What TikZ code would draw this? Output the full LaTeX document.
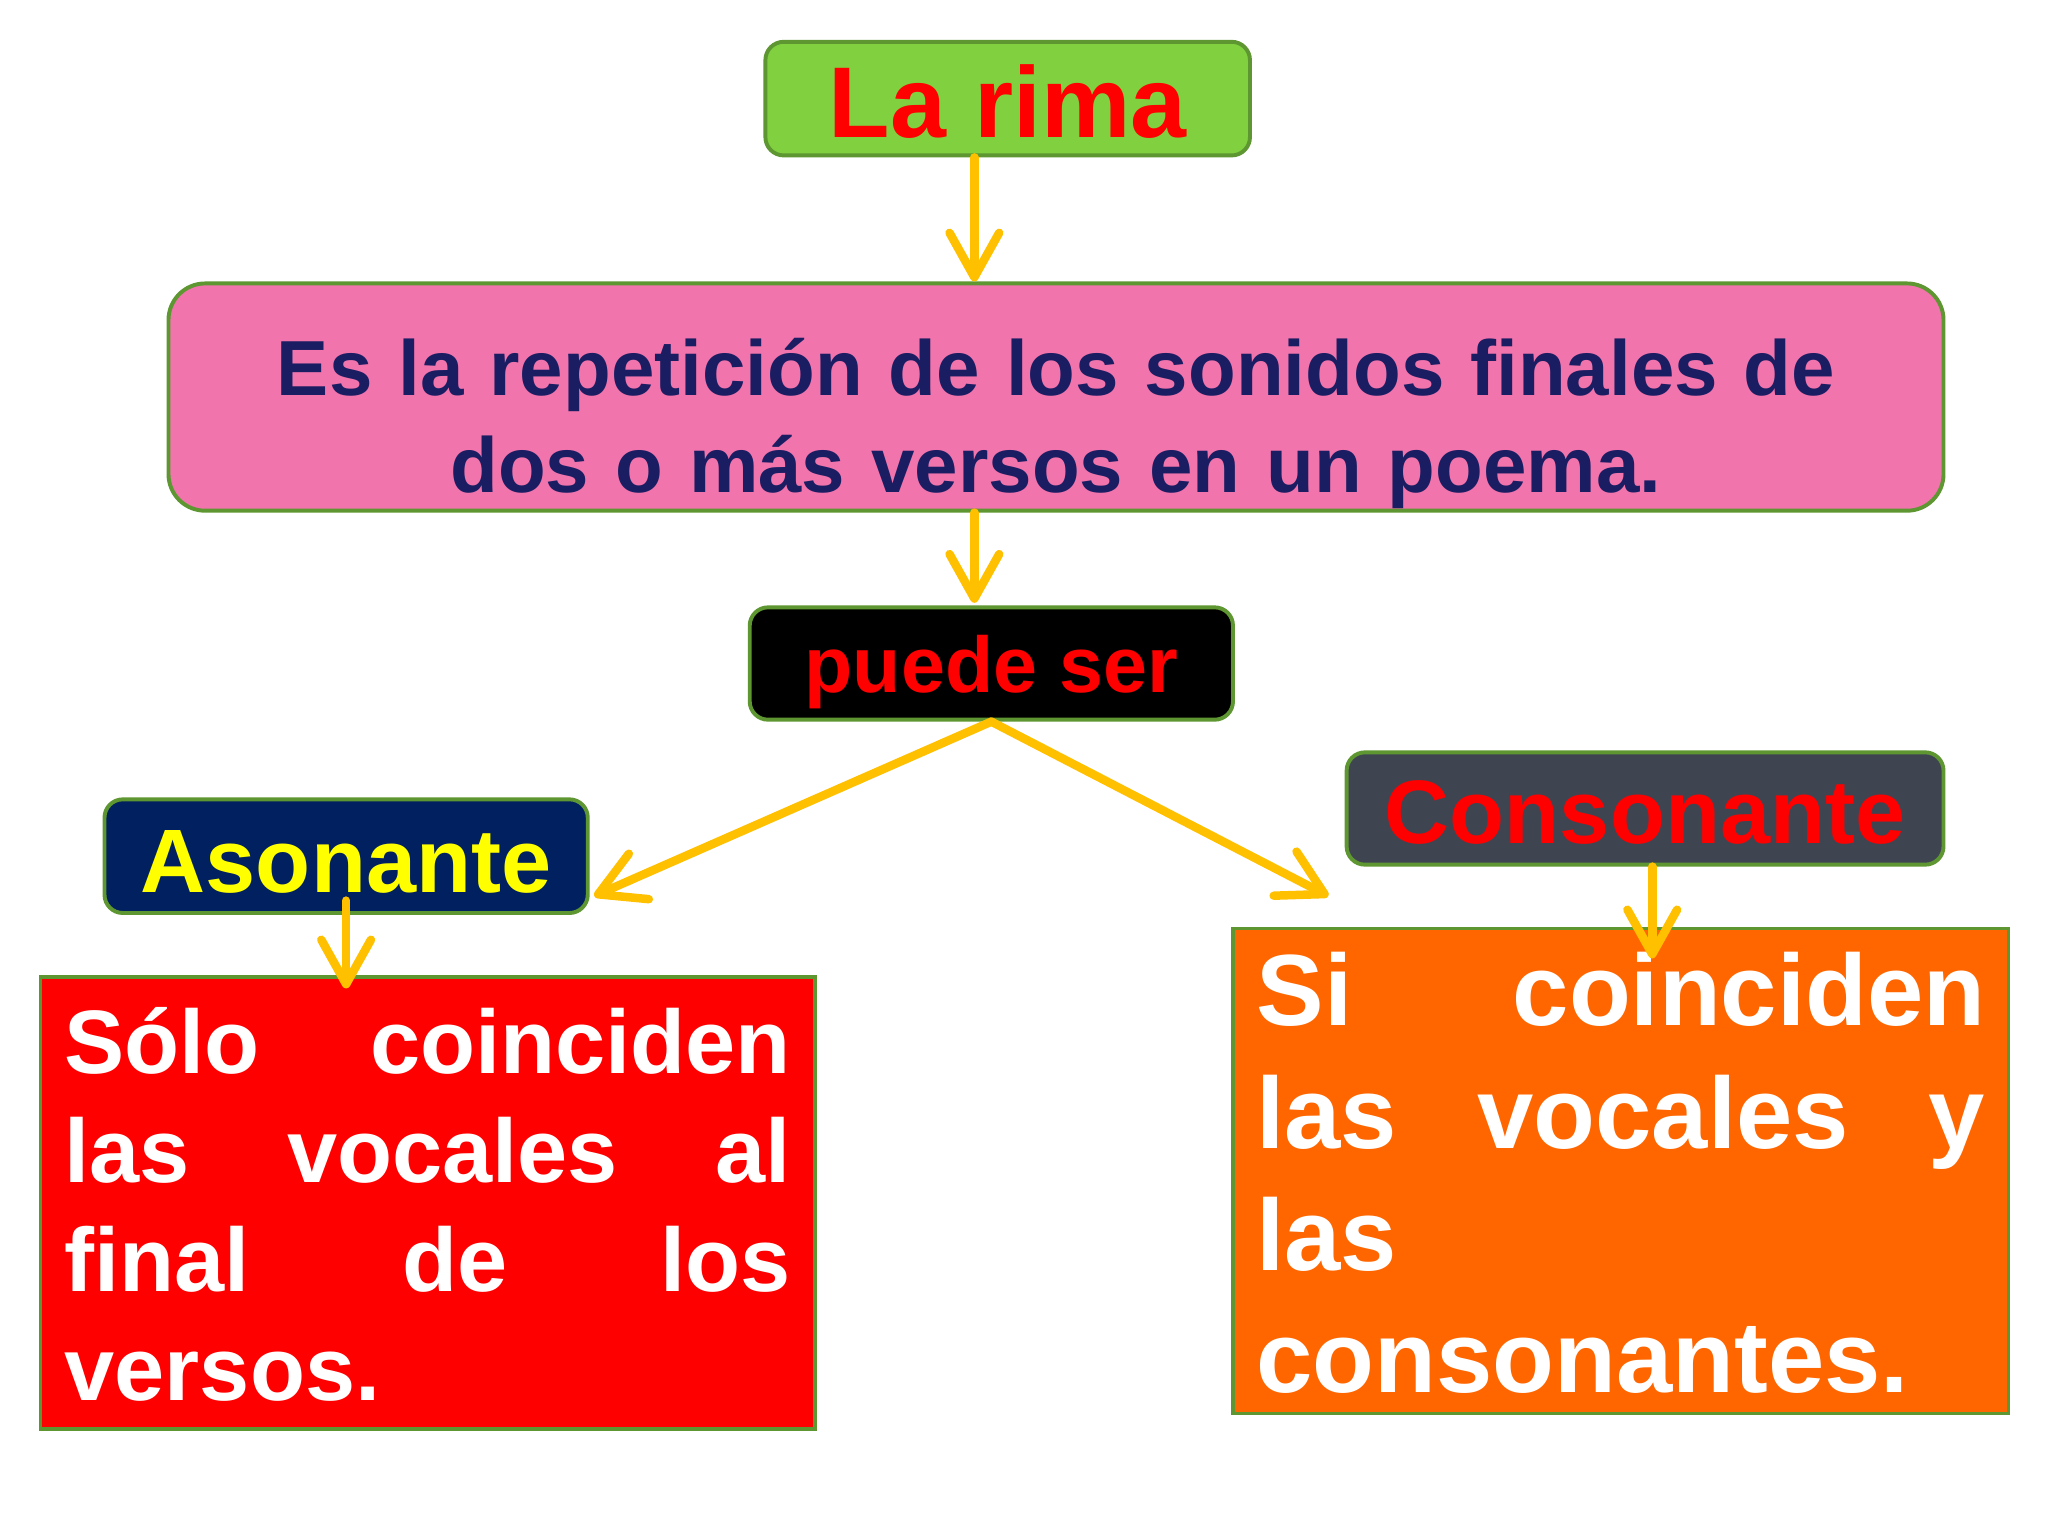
\documentclass[tikz,border=0pt]{standalone}
\usepackage{fontspec}
\setmainfont{Liberation Sans}
\usetikzlibrary{arrows.meta,calc}
\definecolor{rimagreen}{HTML}{80D040}
\definecolor{bordergreen}{HTML}{5E9732}
\definecolor{rosa}{HTML}{F274AC}
\definecolor{navytext}{HTML}{1B1D62}
\definecolor{asonfill}{HTML}{002060}
\definecolor{consfill}{HTML}{3F4451}
\definecolor{naranja}{HTML}{FF6600}
\definecolor{rojo}{HTML}{FF0000}
\definecolor{amarillo}{HTML}{FFC000}
\definecolor{amarillotext}{HTML}{FFFF00}
\tikzset{
  roundbox/.style={draw=bordergreen, line width=3pt, rounded corners=14pt, inner sep=0pt, anchor=center},
  squarebox/.style={draw=bordergreen, line width=2.5pt, inner sep=0pt, anchor=center, align=left},
  arr/.style={draw=amarillo, line width=6.5pt, line cap=round,
    -{Straight Barb[length=34pt,width=38pt,round]}},
}
\begin{document}
\begin{tikzpicture}[x=1pt,y=-1pt]
\useasboundingbox[fill=white] (0,0) rectangle (1568,1176);

% boxes
\node[roundbox, fill=rimagreen, minimum width=371pt, minimum height=87pt,
  text=rojo, font={\fontsize{77}{92}\selectfont\bfseries},
  text height=70pt, text depth=11pt] (rima) at (771.5,75.5) {La rima};

\node[roundbox, fill=rosa, rounded corners=28pt, minimum width=1359pt, minimum height=174pt,
  text=navytext, font={\fontsize{59.8}{74}\selectfont\bfseries},
  text width=1300pt, align=center, text height=70pt, text depth=72pt] (def) at (808.5,304)
  {Es la repetición de los sonidos finales de\\dos o más versos en un poema.};

\node[roundbox, fill=black, minimum width=370pt, minimum height=86pt,
  text=rojo, font={\fontsize{60.5}{72}\selectfont\bfseries},
  text height=60pt, text depth=15pt] (puede) at (759,508) {puede ser};

\node[roundbox, fill=asonfill, minimum width=370pt, minimum height=87pt,
  text=amarillotext, font={\fontsize{69}{83}\selectfont\bfseries},
  text height=65pt, text depth=10pt] (ason) at (265,655.5) {Asonante};

\node[roundbox, fill=consfill, minimum width=457pt, minimum height=86pt,
  text=rojo, font={\fontsize{69}{83}\selectfont\bfseries},
  text height=64pt, text depth=10pt] (cons) at (1259.5,619) {Consonante};

\node[squarebox, fill=rojo, minimum width=593pt, minimum height=346pt,
  text=white, font={\fontsize{69}{83.5}\selectfont\bfseries},
  text width=556pt, text height=60pt, text depth=258pt] (sdef) at (327.5,921)
  {Sólo\hfill coinciden\\las\hfill vocales\hfill al\\final\hfill de\hfill los\\versos.};

\node[squarebox, fill=naranja, minimum width=594pt, minimum height=371pt,
  text=white, font={\fontsize{77.5}{93.5}\selectfont\bfseries},
  text width=558pt, text height=65pt, text depth=287pt] (cdef) at (1241,896.5)
  {Si\hfill coinciden\\las\hfill vocales\hfill y\\las\\consonantes.};

% connector columns and free ends
\coordinate (colA) at (746,0);
\coordinate (colB) at (265,0);
\coordinate (colC) at (1265,0);
\coordinate (endA) at (455,686);
\coordinate (endC) at (1017,686);

\draw[arr] (rima.south -| colA) -- (def.north -| colA);
\draw[arr] (def.south -| colA) -- ($(puede.north -| colA)+(0,-2)$);
\draw[arr] (puede.south) -- (endA);
\draw[arr] (puede.south) -- (endC);
\draw[arr] ($(ason.south -| colB)+(0,-11)$) -- ($(sdef.north -| colB)+(0,10)$);
\draw[arr] (cons.south -| colC) -- ($(cdef.north -| colC)+(0,24)$);
\end{tikzpicture}
\end{document}
